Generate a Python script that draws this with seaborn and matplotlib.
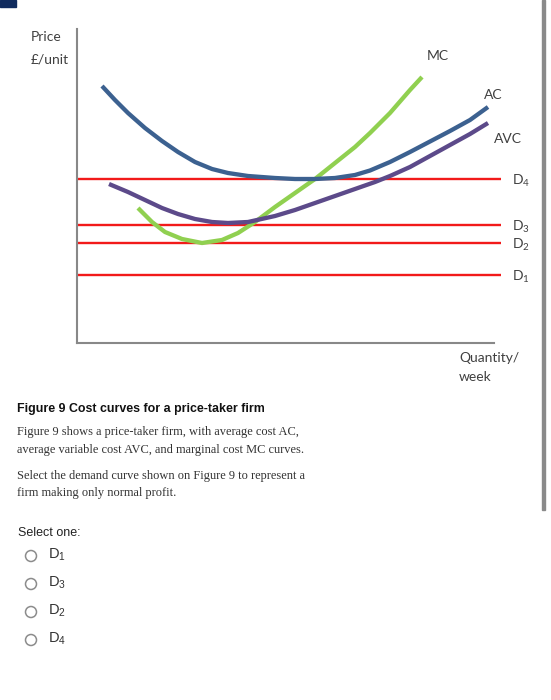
import matplotlib.pyplot as plt
import matplotlib.patches as mpatches
import seaborn as sns

# curve points (quantity, price) in chart units
ac_q = [25, 38, 51, 68, 85, 101, 118, 135, 151, 171, 198, 218, 238, 258, 278, 293, 313, 333, 353, 373, 393, 411]
ac_p = [257, 243, 230, 215, 202, 191, 181, 174, 170, 167, 165, 164, 164, 165, 168, 172.5, 181, 191, 201.5, 212, 223, 236]
avc_q = [32, 51, 68, 85, 101, 118, 135, 151, 171, 198, 218, 238, 258, 278, 298, 313, 333, 353, 373, 393, 411]
avc_p = [159, 151, 143, 135, 129, 124, 121, 120, 121, 127, 133, 140, 147, 154, 161, 167, 176, 187, 198, 209, 220]
mc_q = [61, 75, 88, 105, 125, 145, 161, 178, 198, 218, 238, 258, 278, 293, 313, 333, 345]
mc_p = [135, 121, 111, 104, 100, 103, 110, 121, 136, 150, 164, 180, 196, 210, 230, 253, 266]
demand_names = ["D$_4$", "D$_3$", "D$_2$", "D$_1$"]
demand_p = [164, 118, 100, 68]
options = ["D$_1$", "D$_3$", "D$_2$", "D$_4$"]

body = ["Figure 9 shows a price-taker firm, with average cost AC,",
        "average variable cost AVC, and marginal cost MC curves.",
        "Select the demand curve shown on Figure 9 to represent a",
        "firm making only normal profit."]

sns.set_theme(style="white")
plt.rcParams['font.family'] = ['Lato', 'DejaVu Sans']
plt.rcParams['mathtext.default'] = 'regular'

fig = plt.figure(figsize=(5.51, 7), dpi=100)

# page layer in pixel coords
page = fig.add_axes([0, 0, 1, 1])
page.set_xlim(0, 551); page.set_ylim(700, 0); page.axis('off')
page.add_patch(mpatches.Rectangle((0, 0), 16, 7, color='#102b5e'))
page.add_patch(mpatches.Rectangle((541.5, 0), 3, 510, color='#8a8a8a'))

ax = fig.add_axes([77/551, 1-343/700, (501-77)/551, (343-29)/700])
ax.set_xlim(0, 424); ax.set_ylim(0, 314)
ax.patch.set_alpha(0)
for s in ['top', 'right']:
    ax.spines[s].set_visible(False)
for s in ['left', 'bottom']:
    ax.spines[s].set_color('#888888'); ax.spines[s].set_linewidth(1.5)
ax.spines['bottom'].set_bounds(0, 417)
ax.set_xticks([]); ax.set_yticks([])

for p in demand_p:
    ax.hlines(p, 1, 424, color='#f21a1a', lw=1.7, zorder=1)

sty = dict(sort=False, lw=3.1, ax=ax, solid_capstyle='butt', solid_joinstyle='round')
sns.lineplot(x=ac_q, y=ac_p, color='#3c6190', zorder=3, **sty)
sns.lineplot(x=avc_q, y=avc_p, color='#5c4a8a', zorder=3, **sty)
sns.lineplot(x=mc_q, y=mc_p, color='#90d050', zorder=2, **sty)

lab = dict(color='#404040', fontsize=10, clip_on=False)
ax.text(361, 287, "MC", ha='center', va='center', **lab)
ax.text(416, 248, "AC", ha='center', va='center', **lab)
ax.text(431, 204, "AVC", ha='center', va='center', **lab)
for name, p in zip(demand_names, demand_p):
    ax.text(435, p - 2, name, ha='left', va='center', **lab)

page.text(31, 37, "Price", ha='left', va='center', color='#404040', fontsize=10)
page.text(31, 60, "£/unit", ha='left', va='center', color='#404040', fontsize=10)
page.text(459, 358, "Quantity/", ha='left', va='center', color='#404040', fontsize=10)
page.text(459, 377, "week", ha='left', va='center', color='#404040', fontsize=10)

page.text(17, 409, "Figure 9 Cost curves for a price-taker firm", ha='left', va='center',
          fontsize=8.9, fontweight='bold', family='Liberation Sans', color='#111111')
for i, line in enumerate(body):
    y = [432, 450, 476, 493][i]
    page.text(17, y, line, ha='left', va='center', fontsize=8.9,
              family='Liberation Serif', color='#333333')

page.text(18, 533, "Select one:", ha='left', va='center', fontsize=9,
          family='Liberation Sans', color='#222222')
for opt, y in zip(options, [556, 584, 612, 640]):
    page.add_patch(mpatches.Circle((31, y), 5.5, fill=False, ec='#8c8c8c', lw=1.1))
    page.text(48, y - 1, opt, ha='left', va='center', fontsize=10.5,
              family='Liberation Sans', color='#333333')

fig.savefig("out.png", dpi=100)
